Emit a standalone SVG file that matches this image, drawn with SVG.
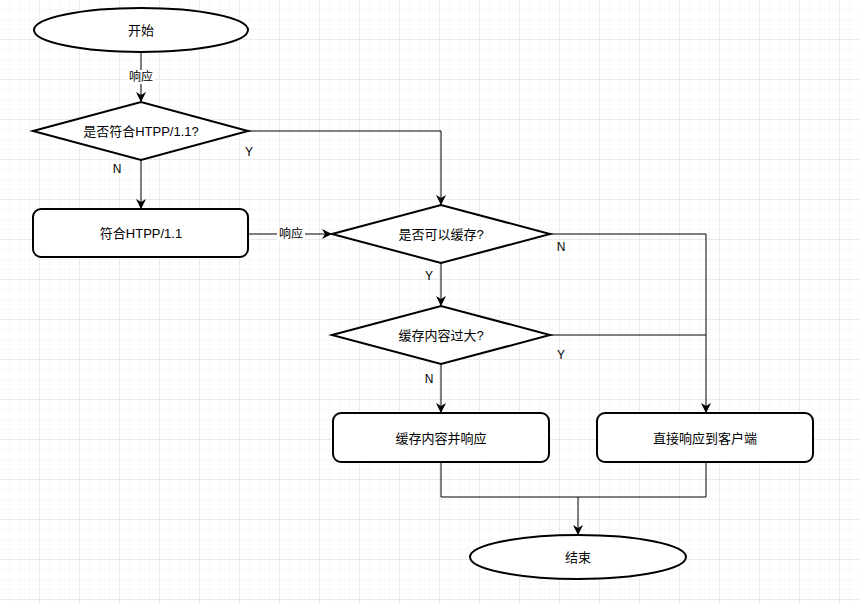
<svg xmlns="http://www.w3.org/2000/svg" width="859" height="604" viewBox="0 0 859 604">
<style>
.s{fill:#fff;stroke:#000;stroke-width:2}
.c{fill:none;stroke:#000;stroke-width:1}
text{font-family:"Liberation Sans","Noto Sans CJK SC",sans-serif;font-size:13px;fill:#000}
.m{text-anchor:middle;dominant-baseline:central}
.l{font-size:12px}
</style>
<defs>
<pattern id="g" width="10" height="10" patternUnits="userSpaceOnUse"><path d="M10 0V10H0" fill="none" stroke="#efefef" stroke-width="1"/></pattern>
<pattern id="G" width="40" height="40" patternUnits="userSpaceOnUse"><rect width="40" height="40" fill="url(#g)"/><path d="M40 0V40H0" fill="none" stroke="#e0e0e0" stroke-width="1"/></pattern>
<marker id="a" markerWidth="10" markerHeight="10" refX="9" refY="5" orient="auto" markerUnits="userSpaceOnUse"><path d="M0 0L10 5L0 10L3 5Z" fill="#000"/></marker>
</defs>
<rect width="859" height="604" fill="#fff"/>
<rect x="-2" y="-2" width="861" height="606" fill="url(#G)"/>
<g id="connectors">
<path class="c" d="M141 52V101" marker-end="url(#a)"/>
<rect x="127" y="70" width="28" height="14" fill="#fff"/><text class="m l" x="141" y="77">响应</text>
<path class="c" d="M248 131H441V204" marker-end="url(#a)"/>
<text class="m l" x="249" y="152">Y</text>
<path class="c" d="M141 160V208" marker-end="url(#a)"/>
<text class="m l" x="117" y="169">N</text>
<path class="c" d="M248 234H331" marker-end="url(#a)"/>
<rect x="277" y="227" width="28" height="14" fill="#fff"/><text class="m l" x="291" y="234">响应</text>
<path class="c" d="M550 234H706V412" marker-end="url(#a)"/>
<text class="m l" x="561" y="247">N</text>
<path class="c" d="M441 263V305" marker-end="url(#a)"/>
<text class="m l" x="429" y="276">Y</text>
<path class="c" d="M550 335H706"/>
<text class="m l" x="561" y="355">Y</text>
<path class="c" d="M441 364V412" marker-end="url(#a)"/>
<text class="m l" x="429" y="379">N</text>
<path class="c" d="M441 462V497H578V534" marker-end="url(#a)"/>
<path class="c" d="M706 462V497H578"/>
</g>
<g id="start"><ellipse class="s" cx="141" cy="30" rx="107" ry="22"/><text class="m" x="141" y="30">开始</text></g>
<g id="d1"><polygon class="s" points="33,131 141,102 248,131 141,160"/><text class="m" x="141" y="131">是否符合HTPP/1.1?</text></g>
<g id="b1"><rect class="s" x="33" y="209" width="215" height="48" rx="8"/><text class="m" x="141" y="233">符合HTPP/1.1</text></g>
<g id="d2"><polygon class="s" points="332,234 441,205 550,234 441,263"/><text class="m" x="441" y="234">是否可以缓存?</text></g>
<g id="d3"><polygon class="s" points="332,335 441,306 550,335 441,364"/><text class="m" x="441" y="335">缓存内容过大?</text></g>
<g id="b2"><rect class="s" x="333" y="413" width="216" height="49" rx="8"/><text class="m" x="441" y="438">缓存内容并响应</text></g>
<g id="b3"><rect class="s" x="597" y="413" width="216" height="49" rx="8"/><text class="m" x="705" y="438">直接响应到客户端</text></g>
<g id="end"><ellipse class="s" cx="578" cy="557" rx="108" ry="22"/><text class="m" x="578" y="557">结束</text></g>
</svg>
